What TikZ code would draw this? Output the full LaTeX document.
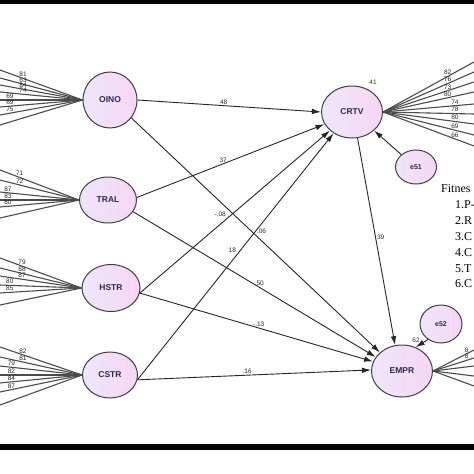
\documentclass[tikz,border=0pt]{standalone}
\usepackage{fontspec}
\setmainfont{Liberation Serif}
\newfontfamily\lblfont{Liberation Sans}
\usetikzlibrary{shapes.geometric,arrows.meta}
\definecolor{latleft}{RGB}{238,230,250}
\definecolor{latright}{RGB}{246,214,244}
\definecolor{latdark}{RGB}{45,40,85}
\tikzset{
  latent/.style={ellipse, draw=black!75, line width=1pt, left color=latleft, right color=latright,
    inner sep=0pt, text=latdark, font=\lblfont\bfseries\fontsize{8.5}{9}\selectfont},
  coef/.style={font=\lblfont\fontsize{6.5}{7}\selectfont, inner sep=1pt, text=black!85},
  ind/.style={draw=black!70, line width=1.1pt},
  reg/.style={->, draw=black!85, line width=0.9pt},
  fit/.style={anchor=base west, inner sep=0pt, font=\fontsize{12}{13}\selectfont},
}
\begin{document}
\begin{tikzpicture}[x=1pt, y=-1pt, >={Latex[length=9pt,width=5.5pt]}]
\useasboundingbox (0,0) rectangle (474,474);
\fill (0,0) rectangle (474,4);
\fill (0,444) rectangle (474,450);

% latent variables
\node[latent, minimum width=54pt, minimum height=56pt] (oino) at (110,100) {OINO};
\node[latent, minimum width=57pt, minimum height=46pt] (tral) at (108,200) {TRAL};
\node[latent, minimum width=58pt, minimum height=47pt] (hstr) at (111,288) {HSTR};
\node[latent, minimum width=55pt, minimum height=46pt] (cstr) at (110,375) {CSTR};
\node[latent, minimum width=61pt, minimum height=52pt] (crtv) at (352,112) {CRTV};
\node[latent, minimum width=61pt, minimum height=52pt] (empr) at (402,371) {EMPR};
\node[latent, minimum width=41pt, minimum height=34pt, font=\lblfont\bfseries\fontsize{7}{8}\selectfont] (e51) at (416,167) {e51};
\node[latent, minimum width=42pt, minimum height=38pt, font=\lblfont\bfseries\fontsize{7}{8}\selectfont] (e52) at (441,324) {e52};

% indicators
\foreach \y/\v/\p in {70/81/.72, 78/63/.72, 85/84/.72, 92/74/.72, 100/69/.88, 107/69/.88, 115/75/.88}
  \draw[ind] (oino.west) -- node[coef, pos=\p, above]{\v} (0,\y);
\draw[ind] (oino.west) -- (0,125);
\foreach \y/\v/\p in {170/71/.75, 180/72/.75, 192/87/.9, 200/83/.9, 207/80/.9}
  \draw[ind] (tral.west) -- node[coef, pos=\p, above]{\v} (0,\y);
\draw[ind] (tral.west) -- (0,218);
\foreach \y/\v/\p in {258/79/.73, 268/88/.73, 276/87/.73, 285/80/.88, 293/85/.88}
  \draw[ind] (hstr.west) -- node[coef, pos=\p, above]{\v} (0,\y);
\draw[ind] (hstr.west) -- (0,305);
\foreach \y/\v/\p in {347/82/.72, 357/81/.72, 366/79/.86, 375/82/.86, 383/84/.86, 392/87/.86}
  \draw[ind] (cstr.west) -- node[coef, pos=\p, above]{\v} (0,\y);
\draw[ind] (cstr.west) -- (0,405);
\foreach \y/\v/\p in {62/82/.71, 72/76/.71, 82/73/.71, 92/80/.71, 104/74/.79, 114/78/.79, 124/80/.79, 135/69/.79, 146/66/.79}
  \draw[ind] (crtv.east) -- node[coef, pos=\p, above]{\v} (474,\y);
\foreach \y/\v in {350/8, 358/8}
  \draw[ind] (empr.east) -- node[coef, pos=.82, above]{\v} (474,\y);
\foreach \y in {366,376,386}
  \draw[ind] (empr.east) -- (474,\y);

% structural paths
\draw[reg] (oino.east) -- node[coef, pos=.47, above]{48} (crtv.west);
\draw[reg] (oino.-40) -- node[coef, pos=.5, above right]{.06} (empr.140);
\draw[reg] (tral.5) -- node[coef, pos=.46, above]{37} (crtv.204);
\draw[reg] (tral.-25) -- node[coef, pos=.52, above]{.50} (empr.152);
\draw[reg] (hstr.-10) -- node[coef, pos=.46, above left]{-.08} (crtv.220);
\draw[reg] (hstr.-10) -- node[coef, pos=.51, above]{-.13} (empr.162);
\draw[reg] (cstr.-10) -- node[coef, pos=.51, above left]{18} (crtv.229);
\draw[reg] (cstr.-10) -- node[coef, pos=.47, above]{.16} (empr.178);
\draw[reg] (crtv.-78) -- node[coef, pos=.48, right]{39} (empr.105);
\draw[reg] (e51.140) -- (crtv.-40);
\draw[reg] (e52.230) -- (empr.60);
\node[coef] (r2crtv) at (373,82) {41};
\node[coef] (r2empr) at (416,340) {62};

% fitness indices
\node[fit] (fithead) at (441,192) {Fitnes};
\node[fit] (fit1) at (455,208) {1.P-};
\node[fit] (fit2) at (455,224) {2.R};
\node[fit] (fit3) at (455,240) {3.C};
\node[fit] (fit4) at (455,256) {4.C};
\node[fit] (fit5) at (455,272) {5.T};
\node[fit] (fit6) at (455,287) {6.C};
\end{tikzpicture}
\end{document}
